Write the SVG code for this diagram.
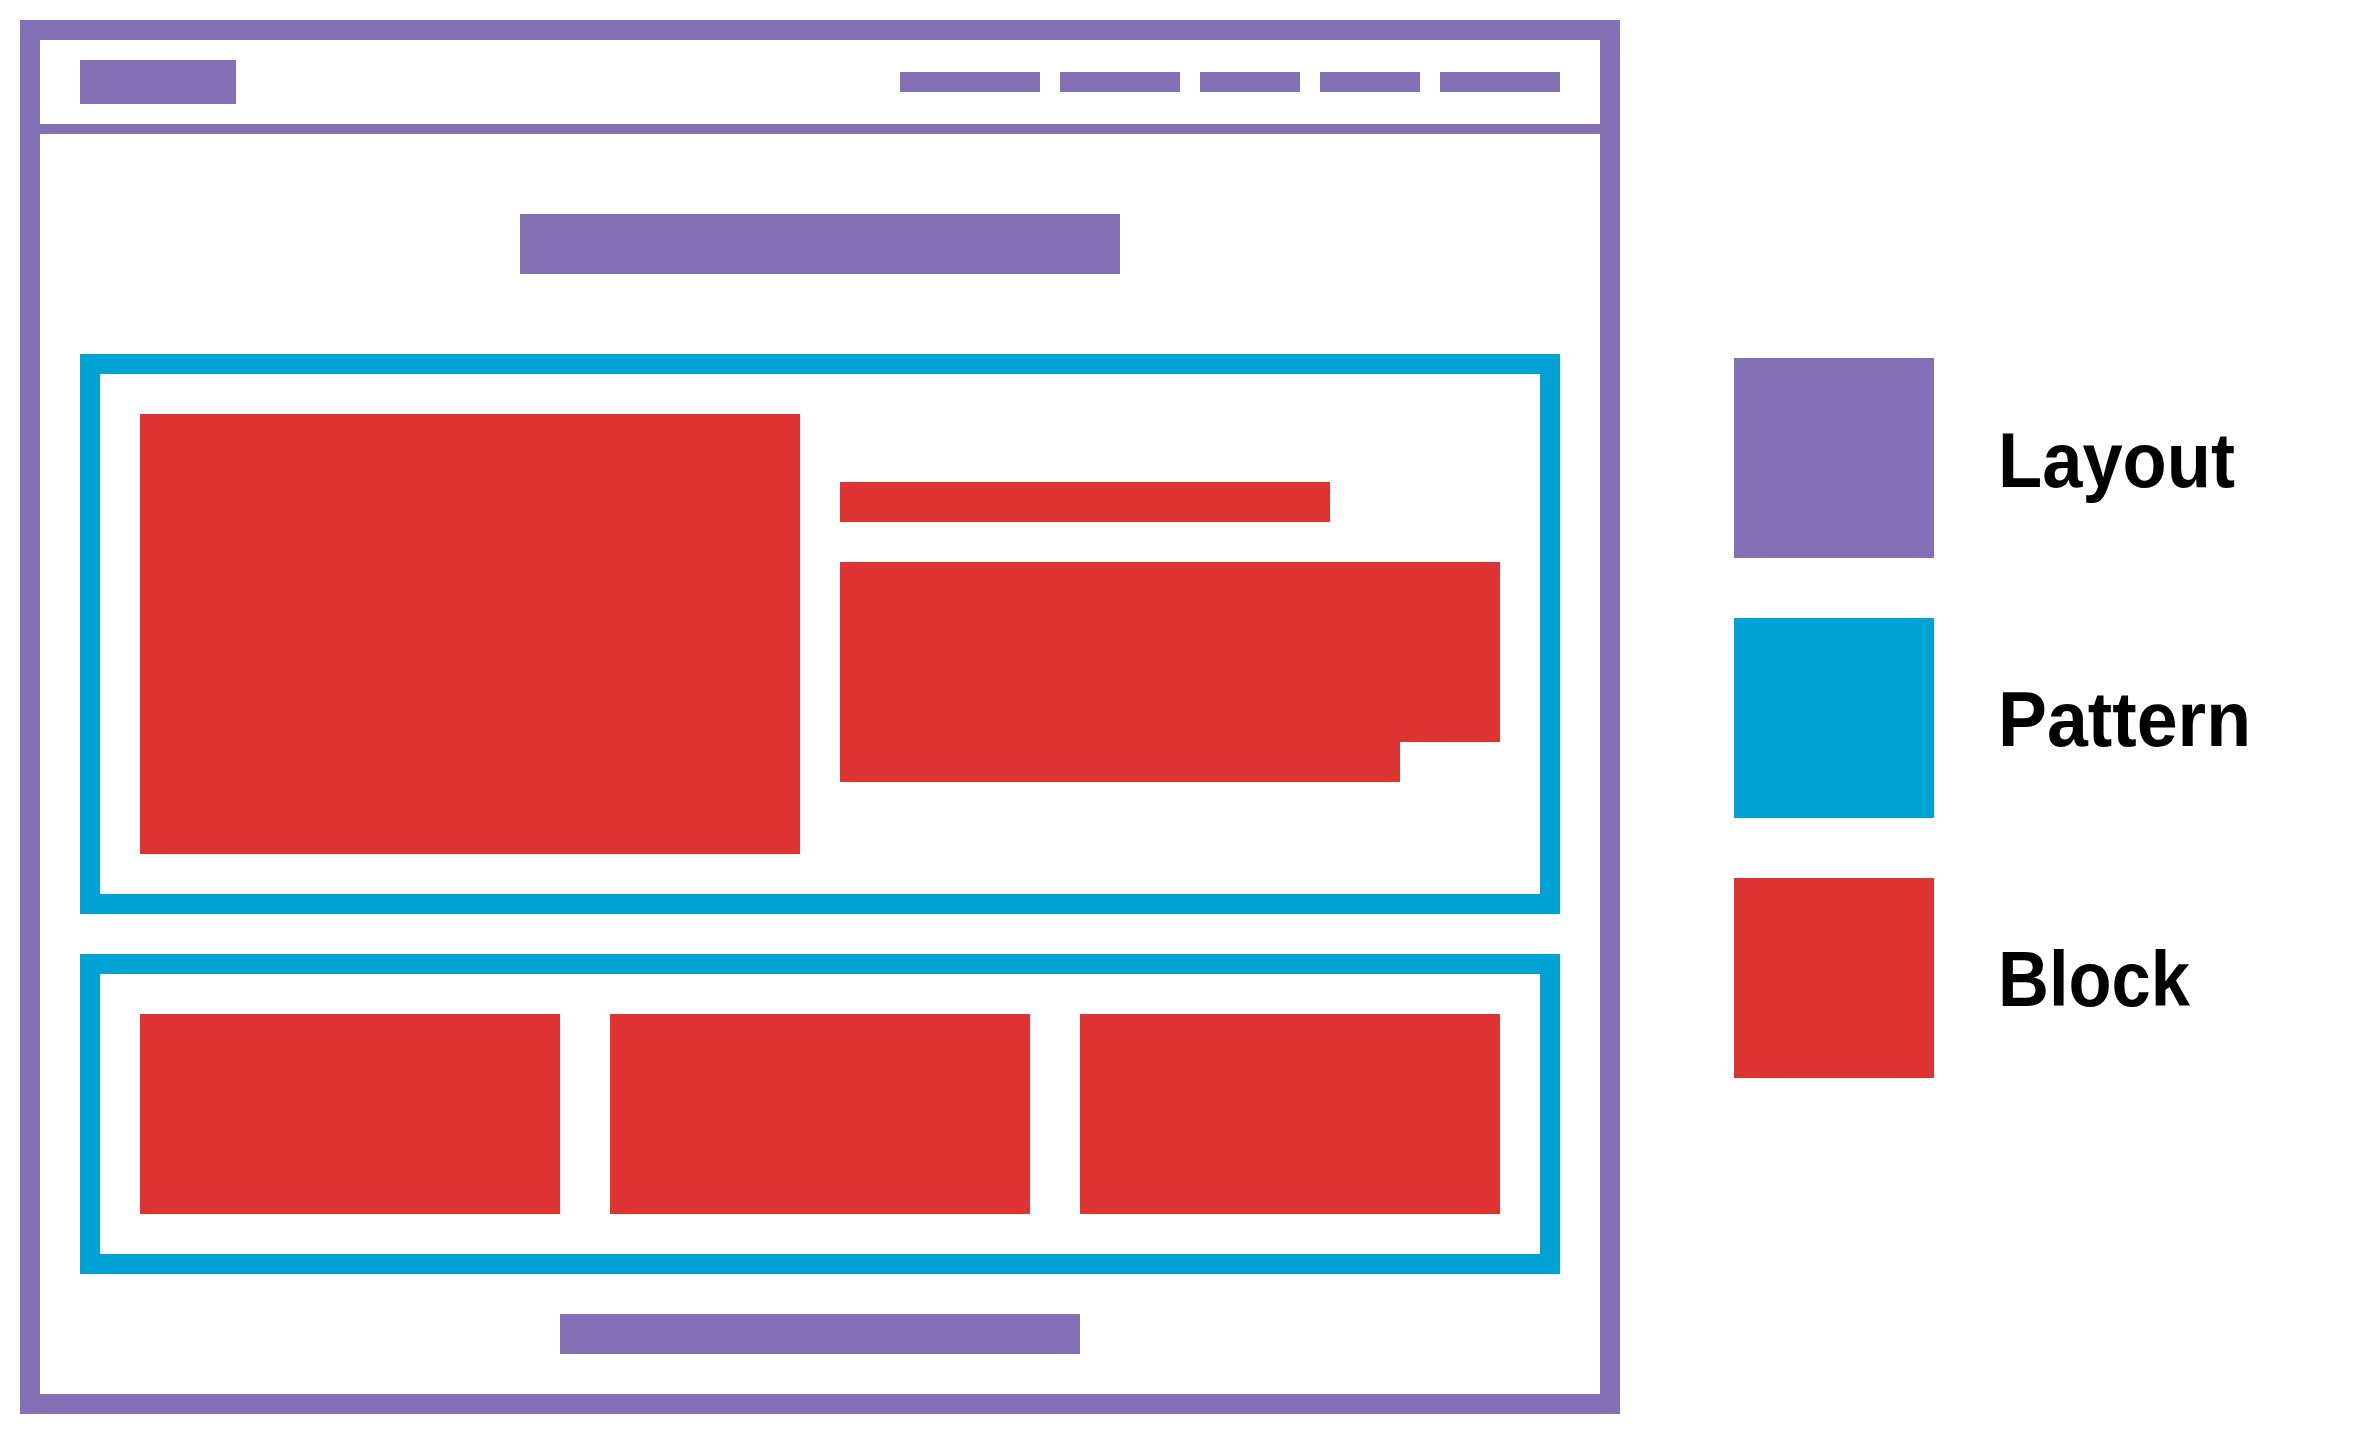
<svg xmlns="http://www.w3.org/2000/svg" width="2354" height="1434" viewBox="0 0 2354 1434">
  <style>
    .layout { fill: #8470B4; }
    .layout-frame { fill: none; stroke: #8470B4; stroke-width: 20; }
    .pattern { fill: none; stroke: #00A2D3; stroke-width: 20; }
    .pattern-fill { fill: #00A2D3; }
    .block { fill: #DE3333; }
    .label { font-family: "Liberation Sans", Arial, sans-serif; font-weight: bold; font-size: 78px; fill: #000; }
  </style>
  <rect x="0" y="0" width="2354" height="1434" fill="#FFFFFF"/>
  <g id="page">
    <rect id="page-frame" class="layout-frame" x="30" y="30" width="1580" height="1374"/>
    <rect id="header-divider" class="layout" x="40" y="124" width="1560" height="10"/>
  </g>
  <g id="header">
    <rect id="logo" class="layout" x="80" y="60" width="156" height="44"/>
    <rect id="nav-1" class="layout" x="900" y="72" width="140" height="20"/>
    <rect id="nav-2" class="layout" x="1060" y="72" width="120" height="20"/>
    <rect id="nav-3" class="layout" x="1200" y="72" width="100" height="20"/>
    <rect id="nav-4" class="layout" x="1320" y="72" width="100" height="20"/>
    <rect id="nav-5" class="layout" x="1440" y="72" width="120" height="20"/>
  </g>
  <g id="page-title">
    <rect class="layout" x="520" y="214" width="600" height="60"/>
  </g>
  <g id="hero-pattern">
    <rect class="pattern" x="90" y="364" width="1460" height="540"/>
    <rect id="hero-image" class="block" x="140" y="414" width="660" height="440"/>
    <rect id="hero-heading" class="block" x="840" y="482" width="490" height="40"/>
    <path id="hero-text" class="block" d="M840 562 H1500 V742 H1400 V782 H840 Z"/>
  </g>
  <g id="cards-pattern">
    <rect class="pattern" x="90" y="964" width="1460" height="300"/>
    <rect id="card-1" class="block" x="140" y="1014" width="420" height="200"/>
    <rect id="card-2" class="block" x="610" y="1014" width="420" height="200"/>
    <rect id="card-3" class="block" x="1080" y="1014" width="420" height="200"/>
  </g>
  <g id="footer">
    <rect class="layout" x="560" y="1314" width="520" height="40"/>
  </g>
  <g id="legend">
    <g id="legend-layout">
      <rect class="layout" x="1734" y="358" width="200" height="200"/>
      <text class="label" x="1998" y="487" textLength="237" lengthAdjust="spacingAndGlyphs">Layout</text>
    </g>
    <g id="legend-pattern">
      <rect class="pattern-fill" x="1734" y="618" width="200" height="200"/>
      <text class="label" x="1998" y="746" textLength="253" lengthAdjust="spacingAndGlyphs">Pattern</text>
    </g>
    <g id="legend-block">
      <rect class="block" x="1734" y="878" width="200" height="200"/>
      <text class="label" x="1998" y="1006" textLength="192" lengthAdjust="spacingAndGlyphs">Block</text>
    </g>
  </g>
  <g id="connectors"/>
</svg>
